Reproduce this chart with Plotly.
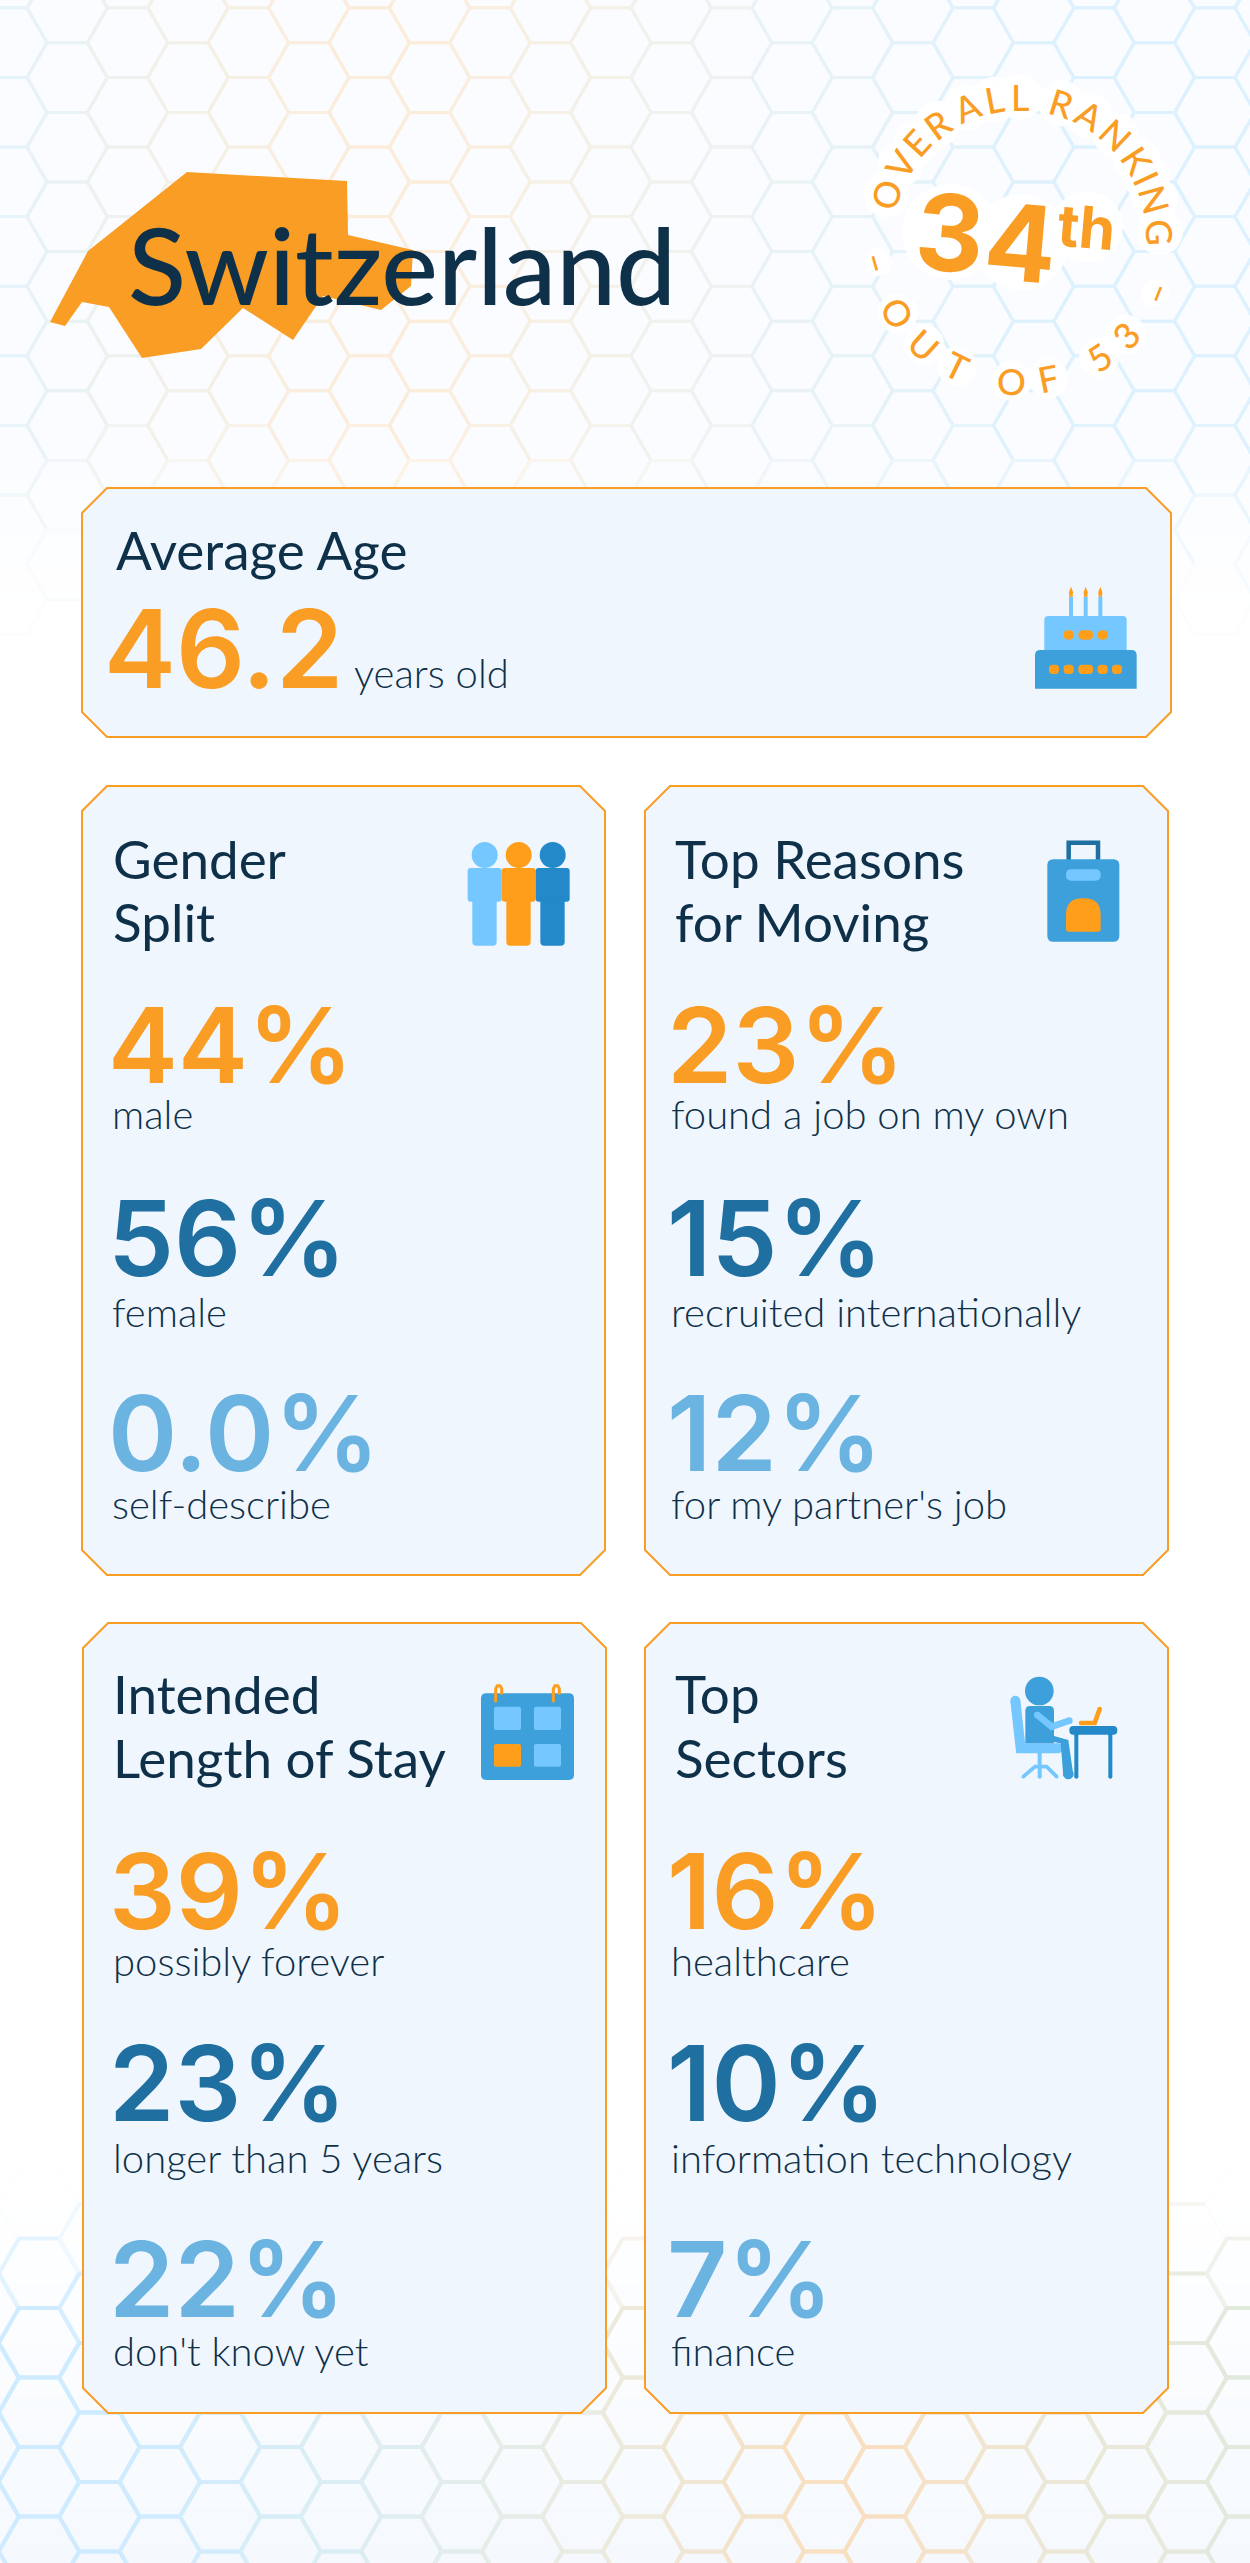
import math
import plotly.graph_objects as go

# chart content
country = "Switzerland"
rank = "34th"
rank_top = "OVERALL RANKING"
rank_bottom = "OUT OF 53"
age_title = "Average Age"
age_value = "46.2"
age_unit = "years old"

gender_title = ["Gender", "Split"]
gender_values = ["44%", "56%", "0.0%"]
gender_labels = ["male", "female", "self-describe"]

reasons_title = ["Top Reasons", "for Moving"]
reasons_values = ["23%", "15%", "12%"]
reasons_labels = ["found a job on my own", "recruited internationally", "for my partner's job"]

stay_title = ["Intended", "Length of Stay"]
stay_values = ["39%", "23%", "22%"]
stay_labels = ["possibly forever", "longer than 5 years", "don't know yet"]

sector_title = ["Top", "Sectors"]
sector_values = ["16%", "10%", "7%"]
sector_labels = ["healthcare", "information technology", "finance"]

# colours
ORANGE = "#FA9D25"
MID = "#1F6FA0"
LIGHT = "#6BB3E0"
DARK = "#0F3049"
PANEL = "#EFF6FD"
SKY = "#74C7FF"
BLUE = "#3DA0DB"
DEEP = "#2389C9"
FONT = "Lato"
NUM_FONT = "Inter"

W, H = 1250, 2563
shapes = []
annotations = []


def text(x, base, s, size, color, weight=300, family=FONT):
    # base is the baseline, the box centre sits a bit above it depending on the font
    lift = 0.387 if family == "Lato" else 0.3635
    annotations.append(dict(
        x=x, y=base - lift * size, text=s, showarrow=False, xanchor="left", yanchor="middle",
        borderpad=0, borderwidth=0,
        font=dict(family=family, size=size, color=color, weight=weight),
    ))


def mix(c, a):
    return "#%02x%02x%02x" % tuple(round(255 + (v - 255) * a) for v in c)


def ramp(stops, x):
    if x <= stops[0][0]:
        return stops[0][1]
    for (x0, c0), (x1, c1) in zip(stops, stops[1:]):
        if x <= x1:
            t = (x - x0) / (x1 - x0)
            return tuple(p + (q - p) * t for p, q in zip(c0, c1))
    return stops[-1][1]


def hexes(x0, dx, ey_even, ey_odd, dy, y_top, y_bot, stops, fade, width):
    for i in range(-1, 23):
        cx = x0 + dx * i
        ey = ey_even if i % 2 == 0 else ey_odd
        k0 = math.floor((y_top - ey) / dy) - 1
        k1 = math.ceil((y_bot - ey) / dy) + 1
        for k in range(k0, k1):
            cy = ey + dy * k + dy / 2
            a = max(0, min(1, fade(cy)))
            if a <= 0:
                continue
            h = dy / 2
            path = (f"M{cx-20},{cy-h}L{cx+20},{cy-h}L{cx+40},{cy}L{cx+20},{cy+h}"
                    f"L{cx-20},{cy+h}L{cx-40},{cy}Z")
            shapes.append(dict(type="path", path=path, line=dict(color=mix(ramp(stops, cx), a), width=width)))


top_stops = [(0, (228, 243, 251)), (200, (244, 241, 232)), (400, (253, 236, 216)), (600, (245, 241, 232)),
             (800, (234, 243, 245)), (1050, (221, 241, 254))]
bot_stops = [(150, (206, 235, 255)), (330, (218, 238, 246)), (600, (234, 236, 226)), (860, (250, 222, 190)),
             (1050, (238, 231, 214)), (1250, (226, 234, 222))]
hexes(6.8, 60.4, 147, 182, 69.6, 0, 620, top_stops, lambda y: (620 - y) / 190, 3)
hexes(39, 60.4, 2447, 2482, 69.5, 2200, W * 3, bot_stops, lambda y: (y - 2200) / 130, 3.8)


def poly(pts, fill):
    path = "M" + "L".join(f"{x},{y}" for x, y in pts) + "Z"
    shapes.append(dict(type="path", path=path, fillcolor=fill, line=dict(width=0)))


def panel(x0, y0, x1, y1, cut=25):
    pts = [(x0 + cut, y0), (x1 - cut, y0), (x1, y0 + cut), (x1, y1 - cut), (x1 - cut, y1), (x0 + cut, y1),
           (x0, y1 - cut), (x0, y0 + cut)]
    path = "M" + "L".join(f"{x},{y}" for x, y in pts) + "Z"
    shapes.append(dict(type="path", path=path, fillcolor=PANEL, line=dict(color=ORANGE, width=2)))


# the country outline
poly([(187, 172), (347, 181), (348, 235), (413, 250), (411, 286), (381, 310), (323, 296), (293, 340), (243, 308),
      (201, 349), (142, 358), (109, 307), (82, 302), (65, 326), (50, 322), (88, 251)], ORANGE)
text(128, 305, country, 107, DARK, weight=500)

# average age card
panel(82, 488, 1171, 737)
text(116, 570, age_title, 53, DARK, weight=400)
text(104, 688, age_value, 108, ORANGE, weight=600, family=NUM_FONT)
text(354, 688, age_unit, 40, DARK)

# the four lower cards
NUM_SIZE = 105
LAB_SIZE = 40
cards = [
    (82, 786, 605, 1575, 112, 1, gender_title, gender_values, gender_labels, (879, 942), (1083, 1276, 1471), (1129, 1327, 1519)),
    (645, 786, 1168, 1575, 671, 4, reasons_title, reasons_values, reasons_labels, (879, 942), (1083, 1276, 1471), (1129, 1327, 1519)),
    (83, 1623, 606, 2413, 113, 0, stay_title, stay_values, stay_labels, (1714, 1778), (1929, 2121, 2317), (1976, 2173, 2366)),
    (645, 1623, 1168, 2413, 671, 4, sector_title, sector_values, sector_labels, (1714, 1778), (1929, 2121, 2317), (1976, 2173, 2366)),
]
for x0, y0, x1, y1, tx, title_dx, title, values, labels, title_y, value_y, label_y in cards:
    panel(x0, y0, x1, y1)
    for s, b in zip(title, title_y):
        text(tx + title_dx, b, s, 53, DARK, weight=400)
    for s, b, c in zip(values, value_y, (ORANGE, MID, LIGHT)):
        text(tx - 4, b, s, NUM_SIZE, c, weight=600, family=NUM_FONT)
    for s, b in zip(labels, label_y):
        text(tx, b, s, LAB_SIZE, DARK)


# icons are read at 3x, ox/oy is the corner of the crop
def rrect(ox, oy, x0, y0, x1, y1, r, fill, r_bot=None):
    x0, y0, x1, y1, r = ox + x0 / 3, oy + y0 / 3, ox + x1 / 3, oy + y1 / 3, r / 3
    rb = r if r_bot is None else r_bot / 3
    path = (f"M{x0+r},{y0}L{x1-r},{y0}Q{x1},{y0} {x1},{y0+r}L{x1},{y1-rb}Q{x1},{y1} {x1-rb},{y1}"
            f"L{x0+rb},{y1}Q{x0},{y1} {x0},{y1-rb}L{x0},{y0+r}Q{x0},{y0} {x0+r},{y0}Z")
    shapes.append(dict(type="path", path=path, fillcolor=fill, line=dict(width=0)))


def dot(ox, oy, cx, cy, r, fill):
    shapes.append(dict(type="circle", x0=ox + (cx - r) / 3, x1=ox + (cx + r) / 3, y0=oy + (cy - r) / 3,
                       y1=oy + (cy + r) / 3, fillcolor=fill, line=dict(width=0)))


def stroke(ox, oy, pts, color, width):
    path = "M" + "L".join(f"{ox + x / 3},{oy + y / 3}" for x, y in pts)
    shapes.append(dict(type="path", path=path, line=dict(color=color, width=width / 3)))
    for x, y in (pts[0], pts[-1]):
        dot(ox, oy, x, y, width / 2, color)


# cake
ox, oy = 1020, 570
for x in (153, 197, 241):
    rrect(ox, oy, x - 6, 80, x + 6, 140, 0, SKY)
    poly([(ox + (x + dx) / 3, oy + y / 3) for dx, y in ((0, 50), (6, 66), (5, 80), (-5, 80), (-6, 66))], "#FF9E1B")
rrect(ox, oy, 73, 138, 320, 245, 12, SKY, 0)
rrect(ox, oy, 45, 240, 350, 356, 16, BLUE, 0)
for x, w in ((146, 30), (197, 44), (248, 30)):
    rrect(ox, oy, x - w / 2, 181, x + w / 2, 209, 13, "#FF9E1B")
for x, w in ((102, 30), (146, 30), (197, 44), (248, 30), (291, 30)):
    rrect(ox, oy, x - w / 2, 284, x + w / 2, 312, 11, "#FF9E1B")

# people
ox, oy = 440, 810
for shift, color in ((0, SKY), (102, "#FF9E1B"), (204, DEEP)):
    dot(ox, oy, 134 + shift, 135, 39, color)
    rrect(ox, oy, 83 + shift, 174, 185 + shift, 275, 9, color)
    rrect(ox, oy, 97 + shift, 260, 170 + shift, 407, 12, color)

# suitcase
ox, oy = 1030, 820
shapes.append(dict(type="path", line=dict(color=MID, width=4.5),
                   path=f"M{ox+116/3},{oy+125/3}L{ox+116/3},{oy+68/3}L{ox+204/3},{oy+68/3}L{ox+204/3},{oy+125/3}"))
rrect(ox, oy, 52, 118, 268, 365, 18, BLUE)
rrect(ox, oy, 108, 148, 212, 182, 16, SKY)
rrect(ox, oy, 108, 235, 212, 335, 50, "#FF9E1B", 8)

# calendar
ox, oy = 470, 1670
rrect(ox, oy, 33, 70, 312, 330, 16, BLUE)
for x in (72, 192):
    rrect(ox, oy, x, 110, x + 81, 180, 6, SKY)
rrect(ox, oy, 72, 222, 153, 290, 6, "#FF9E1B")
rrect(ox, oy, 192, 222, 273, 290, 6, SKY)
for x in (77, 250):
    stroke(ox, oy, [(x, 93), (x, 56), (x + 5, 47), (x + 13, 47), (x + 18, 56), (x + 18, 70)], "#FF9E1B", 9)

# desk
ox, oy = 1000, 1660
stroke(ox, oy, [(46, 122), (62, 265), (175, 265)], SKY, 30)
stroke(ox, oy, [(119, 280), (119, 350)], SKY, 12)
stroke(ox, oy, [(70, 350), (105, 320), (140, 320), (170, 350)], SKY, 11)
dot(ox, oy, 118, 93, 43, BLUE)
rrect(ox, oy, 76, 138, 162, 250, 14, BLUE, 0)
poly([(ox + x / 3, oy + y / 3) for x, y in ((100, 235), (162, 228), (205, 240), (220, 345), (190, 348), (182, 250))], BLUE)
dot(ox, oy, 205, 342, 16, BLUE)
stroke(ox, oy, [(112, 165), (155, 200), (208, 182)], SKY, 20)
stroke(ox, oy, [(243, 189), (284, 189), (299, 147)], "#FF9E1B", 14)
rrect(ox, oy, 208, 198, 352, 224, 12, DEEP)
for x in (229, 331):
    stroke(ox, oy, [(x, 224), (x, 350)], DEEP, 12)

# rank badge, letters sit on a circle with a soft white blob behind them
CX, CY = 1020, 237
top_angles = [-72.3, -58.6, -47.5, -36, -22.2, -10.7, 0, None, 17.2, 29.7, 43.3, 56.7, 65, 74.6, 88]
bottom_angles = [58.1, 41.7, 26, None, 3.3, -11.3, None, -33.3, -47.3]


def badge(s, x, y, size, angle, halo, weight=500, family=FONT):
    shapes.append(dict(type="circle", x0=x - halo, x1=x + halo, y0=y - halo, y1=y + halo,
                       fillcolor="#FFFFFF", opacity=0.9, line=dict(width=0)))
    annotations.append(dict(
        x=x, y=y, text=s, showarrow=False, xanchor="center", yanchor="middle", textangle=angle, borderpad=0,
        font=dict(family=family, size=size, color=ORANGE, weight=weight),
    ))


for ch, a in zip(rank_top, top_angles):
    if a is not None:
        t = math.radians(a)
        badge(ch, CX + 140 * math.sin(t), CY - 140 * math.cos(t), 36, a, 23)
for ch, a in zip(rank_bottom, bottom_angles):
    if a is not None:
        t = math.radians(a)
        badge(ch, CX - 144 * math.sin(t), CY + 144 * math.cos(t), 36, a, 20)
badge("–", 878, 262, 36, 74, 14)
badge("–", 1155, 293, 36, -68, 14)
badge(rank[0], 950, 232, 106, 5, 48, 700, NUM_FONT)
badge(rank[1], 1021, 242, 106, 5, 48, 700, NUM_FONT)
badge(rank[2:], 1087, 227, 58, 5, 36, 700, NUM_FONT)

fig = go.Figure()
# faint wash behind the honeycomb
fig.add_trace(go.Heatmap(
    x=[0, W], y=[0, 450, 620, 2190, H],
    z=[[0.5, 0.5], [0.5, 0.5], [0, 0], [0, 0], [1, 1]],
    colorscale=[[0, "#FFFFFF"], [1, "#F5F9FE"]], zmin=0, zmax=1, zsmooth="best",
    showscale=False, hoverinfo="skip",
))
fig.update_layout(
    width=W, height=H, margin=dict(l=0, r=0, t=0, b=0), autosize=False,
    paper_bgcolor="white", plot_bgcolor="white", showlegend=False,
    xaxis=dict(range=[0, W], visible=False, fixedrange=True),
    yaxis=dict(range=[H, 0], visible=False, fixedrange=True),
    shapes=shapes, annotations=annotations,
)
fig.write_html("out.html", include_plotlyjs=True, config={"displayModeBar": False},
               post_script="document.body.style.margin='0';")
